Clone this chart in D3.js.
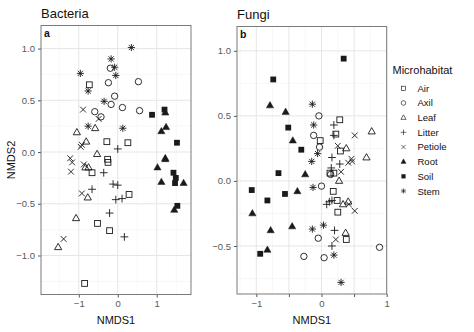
<!DOCTYPE html>
<html><head><meta charset="utf-8">
<script src="https://cdn.jsdelivr.net/npm/d3@7"></script>
<style>body{margin:0;background:#fff}svg{display:block;font-family:"Liberation Sans",Arial,sans-serif}</style>
</head><body><svg id="c" width="474" height="332"></svg>
<script>
const habitats = ["Air","Axil","Leaf","Litter","Petiole","Root","Soil","Stem"];
const legendTitle = "Microhabitat";
const panelTitles = ["Bacteria","Fungi"];
const panelTags = ["a","b"];
const bacteriaX_ticks = [-1,0,1];
const bacteriaY_ticks = [1.0,0.5,0.0,-0.5,-1.0];
const fungiX_ticks = [-1,-0.5,0,0.5,1];
const fungiY_ticks = [1.0,0.5,0.0,-0.5];

// [habitat, NMDS1, NMDS2]
const bacteria = [
["Stem",0.35,1.01],["Stem",-0.17,0.90],["Stem",-0.08,0.82],["Axil",-0.19,0.81],["Stem",-0.05,0.74],
["Stem",-0.96,0.76],["Air",-0.73,0.65],["Axil",-0.24,0.67],["Axil",0.53,0.68],["Stem",-0.76,0.59],
["Stem",-0.35,0.49],["Axil",-0.08,0.54],["Axil",-0.17,0.46],["Axil",0.12,0.43],["Axil",0.56,0.40],
["Petiole",-0.89,0.41],["Axil",-0.59,0.39],["Axil",-0.43,0.34],["Petiole",-0.49,0.32],["Soil",0.88,0.36],
["Soil",1.20,0.41],["Root",1.22,0.38],["Stem",-0.76,0.25],["Leaf",-0.58,0.23],["Leaf",-1.05,0.19],
["Stem",0.13,0.23],["Root",1.12,0.20],["Root",1.24,0.24],["Air",-0.28,0.10],["Air",0.26,0.09],
["Soil",1.52,0.09],["Leaf",-0.81,0.10],["Petiole",-0.92,0.07],["Petiole",-0.95,0.05],["Litter",0.0,0.03],
["Leaf",-0.53,-0.02],["Petiole",-1.22,-0.06],["Air",-0.26,-0.07],["Root",1.22,-0.06],
["Petiole",-1.17,-0.10],["Petiole",-1.20,-0.19],["Petiole",-0.87,-0.12],["Leaf",-0.83,-0.15],["Leaf",-0.75,-0.15],
["Air",-0.25,-0.10],["Air",-0.66,-0.20],["Litter",-0.36,-0.20],["Root",1.02,-0.15],["Root",1.22,-0.07],
["Root",1.12,-0.29],["Soil",1.43,-0.20],["Soil",1.49,-0.25],["Soil",1.47,-0.30],["Root",1.69,-0.30],
["Litter",-0.12,-0.31],["Litter",0.0,-0.32],["Litter",-0.66,-0.36],["Petiole",-0.92,-0.40],["Leaf",-0.77,-0.44],
["Litter",-0.05,-0.46],["Litter",0.11,-0.45],["Air",0.29,-0.41],["Soil",1.53,-0.52],["Root",1.45,-0.56],
["Litter",-0.21,-0.59],["Leaf",-1.07,-0.64],["Air",-0.52,-0.69],["Air",-0.21,-0.76],["Litter",0.17,-0.82],
["Petiole",-1.39,-0.84],["Leaf",-1.53,-0.92],["Air",-0.85,-1.27]
];
const fungi = [
["Soil",0.34,0.94],["Soil",-0.74,0.78],["Root",-0.79,0.58],["Root",-0.55,0.53],["Soil",-0.51,0.41],
["Root",-0.44,0.31],["Soil",-0.31,0.24],["Stem",-0.14,0.59],["Axil",-0.04,0.50],["Stem",-0.12,0.43],
["Axil",-0.12,0.35],["Air",-0.02,0.31],["Axil",-0.03,0.26],["Stem",-0.06,0.21],["Litter",0.19,0.43],
["Air",0.28,0.47],["Air",0.22,0.36],["Litter",0.19,0.35],["Petiole",0.51,0.35],["Leaf",0.77,0.38],
["Petiole",0.25,0.27],["Leaf",0.38,0.25],["Air",0.29,0.23],["Leaf",0.69,0.18],["Litter",0.16,0.18],
["Petiole",0.46,0.17],["Stem",-0.15,0.15],["Litter",0.28,0.13],["Petiole",0.41,0.14],["Petiole",0.47,0.15],
["Litter",0.15,0.10],["Air",0.13,0.06],["Air",0.19,0.06],["Petiole",0.30,0.07],["Axil",0.14,0.05],
["Leaf",0.27,0.0],["Soil",-0.66,0.06],["Root",-0.25,0.05],["Soil",-1.07,-0.07],["Soil",-0.83,-0.15],
["Soil",-0.56,-0.10],["Root",-0.37,-0.08],["Stem",-0.13,-0.05],["Axil",0.0,-0.04],["Air",0.18,-0.08],
["Litter",0.12,-0.16],["Litter",0.08,-0.18],["Litter",0.16,-0.15],["Air",0.24,-0.15],["Leaf",0.33,-0.18],
["Leaf",0.41,-0.16],["Petiole",0.42,-0.18],["Petiole",0.51,-0.23],["Air",0.25,-0.24],["Root",-1.06,-0.25],
["Root",-0.78,-0.38],["Root",-0.45,-0.35],["Stem",-0.14,-0.37],["Stem",0.03,-0.34],["Axil",-0.05,-0.44],
["Litter",0.20,-0.38],["Leaf",0.37,-0.40],["Air",0.38,-0.45],["Petiole",0.22,-0.45],["Litter",0.16,-0.50],
["Axil",0.89,-0.51],["Root",-0.83,-0.53],["Soil",-0.94,-0.56],["Axil",-0.27,-0.58],["Axil",0.04,-0.59],
["Stem",0.19,-0.57],["Stem",0.30,-0.78]
];

const svg = d3.select("#c");
const ink = "#1a1a1a";

function drawShape(g, h, x, y, k){
  k = k || 1;
  const s = g.append("g").attr("transform",`translate(${x},${y}) scale(${k})`);
  const sw = 0.9;
  if(h==="Air") s.append("rect").attr("x",-2.9).attr("y",-2.9).attr("width",5.8).attr("height",5.8).attr("fill","none").attr("stroke",ink).attr("stroke-width",sw);
  else if(h==="Axil") s.append("circle").attr("r",3.2).attr("fill","none").attr("stroke",ink).attr("stroke-width",sw);
  else if(h==="Leaf") s.append("path").attr("d","M0,-3.9L3.6,2.4L-3.6,2.4Z").attr("fill","none").attr("stroke",ink).attr("stroke-width",sw);
  else if(h==="Litter") s.append("path").attr("d","M-3.9,0H3.9M0,-3.9V3.9").attr("stroke",ink).attr("stroke-width",sw);
  else if(h==="Petiole") s.append("path").attr("d","M-2.9,-2.9L2.9,2.9M-2.9,2.9L2.9,-2.9").attr("stroke",ink).attr("stroke-width",sw);
  else if(h==="Root") s.append("path").attr("d","M0,-3.9L3.6,2.4L-3.6,2.4Z").attr("fill",ink).attr("stroke",ink).attr("stroke-width",0.5);
  else if(h==="Soil") s.append("rect").attr("x",-2.9).attr("y",-2.9).attr("width",5.8).attr("height",5.8).attr("fill",ink);
  else if(h==="Stem") s.append("path").attr("d","M-3.6,0H3.6M0,-3.6V3.6M-2.6,-2.6L2.6,2.6M-2.6,2.6L2.6,-2.6").attr("stroke",ink).attr("stroke-width",sw);
}

function panel(cfg){
  const x = d3.scaleLinear().domain(cfg.xd).range([cfg.l, cfg.r]);
  const y = d3.scaleLinear().domain(cfg.yd).range([cfg.b, cfg.t]);
  const g = svg.append("g");
  g.append("rect").attr("x",cfg.l).attr("y",cfg.t).attr("width",cfg.r-cfg.l).attr("height",cfg.b-cfg.t).attr("fill","#fff");
  cfg.xminor.forEach(v=>g.append("line").attr("x1",x(v)).attr("x2",x(v)).attr("y1",cfg.t).attr("y2",cfg.b).attr("stroke","#f2f2f2").attr("stroke-width",0.6));
  cfg.yminor.forEach(v=>g.append("line").attr("y1",y(v)).attr("y2",y(v)).attr("x1",cfg.l).attr("x2",cfg.r).attr("stroke","#f2f2f2").attr("stroke-width",0.6));
  cfg.xt.forEach(v=>g.append("line").attr("x1",x(v)).attr("x2",x(v)).attr("y1",cfg.t).attr("y2",cfg.b).attr("stroke","#e6e6e6").attr("stroke-width",1));
  cfg.yt.forEach(v=>g.append("line").attr("y1",y(v)).attr("y2",y(v)).attr("x1",cfg.l).attr("x2",cfg.r).attr("stroke","#e6e6e6").attr("stroke-width",1));
  const xa = d3.axisBottom(x).tickValues(cfg.xt).tickSize(3).tickPadding(3)
    .tickFormat(v => Number.isInteger(v) ? (v<0?"\u2212"+Math.abs(v):String(v)) : "");
  const ya = d3.axisLeft(y).tickValues(cfg.yt).tickSize(3).tickPadding(3)
    .tickFormat(v => (v<0?"\u2212":"") + Math.abs(v).toFixed(1));
  const gx = g.append("g").attr("transform",`translate(0,${cfg.b})`).call(xa);
  const gy = g.append("g").attr("transform",`translate(${cfg.l},0)`).call(ya);
  [gx,gy].forEach(a=>{
    a.select(".domain").remove();
    a.selectAll(".tick line").attr("stroke","#555");
    a.selectAll(".tick text").attr("fill","#595959").style("font-size","9.5px").style("font-family","'Liberation Sans',Arial,sans-serif");
  });
  const pg = g.append("g");
  cfg.data.forEach(d=>drawShape(pg, d[0], x(d[1]), y(d[2])));
  g.append("rect").attr("x",cfg.l).attr("y",cfg.t).attr("width",cfg.r-cfg.l).attr("height",cfg.b-cfg.t).attr("fill","none").attr("stroke","#7a7a7a").attr("stroke-width",1);
  g.append("text").attr("x",cfg.l+3).attr("y",cfg.t+11).text(cfg.tag).style("font-weight","bold").style("font-size","10.5px").attr("fill","#111");
  g.append("text").attr("x",cfg.l).attr("y",cfg.t-8).text(cfg.title).style("font-size","13px").attr("fill","#111");
  g.append("text").attr("x",(cfg.l+cfg.r)/2).attr("y",324).attr("text-anchor","middle").text("NMDS1").style("font-size","11px").attr("fill","#111");
}

panel({l:41,r:191,t:25.5,b:294.5,xd:[-1.97,1.88],yd:[-1.377,1.223],
  xt:bacteriaX_ticks,yt:bacteriaY_ticks,xminor:[-1.5,-0.5,0.5,1.5],yminor:[0.75,0.25,-0.25,-0.75,-1.25],
  data:bacteria,tag:panelTags[0],title:panelTitles[0]});
panel({l:237,r:386.7,t:26.5,b:294,xd:[-1.296,1.0],yd:[-0.869,1.187],
  xt:fungiX_ticks,yt:fungiY_ticks,xminor:[-1.25,-0.75,-0.25,0.25,0.75],yminor:[0.75,0.25,-0.25,-0.75],
  data:fungi,tag:panelTags[1],title:panelTitles[1]});

svg.append("text").attr("transform","translate(15,160) rotate(-90)").attr("text-anchor","middle").text("NMDS2").style("font-size","11px").attr("fill","#111");

const lg = svg.append("g");
lg.append("text").attr("x",392.5).attr("y",73.5).text(legendTitle).style("font-size","11px").attr("fill","#111");
const ly = d3.scalePoint().domain(habitats).range([88.3,191]);
habitats.forEach(h=>{
  drawShape(lg, h, 403.5, ly(h), 0.72);
  lg.append("text").attr("x",417.5).attr("y",ly(h)+3.5).text(h).style("font-size","9.5px").attr("fill","#111");
});
</script></body></html>
